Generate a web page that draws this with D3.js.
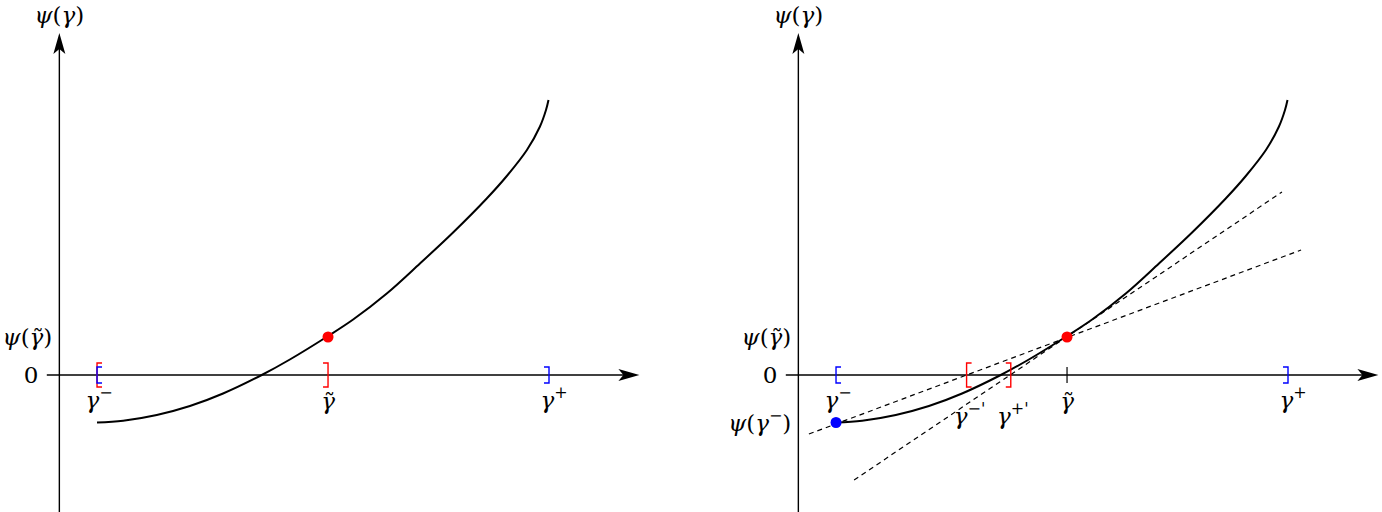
<!DOCTYPE html>
<html>
<head>
<meta charset="utf-8">
<script src="https://cdn.jsdelivr.net/npm/d3@7"></script>
<style>
  body { margin: 0; background: #fff; }
  svg { display: block; }
  svg text { font-family: "DejaVu Serif", "Liberation Serif", serif; fill: #000; }
</style>
</head>
<body>
<svg id="chart"></svg>
<script>
// psi(gamma) (abstract units)
const gammaValues = [1.00, 1.52, 2.19, 2.85, 3.51, 4.28, 4.84, 5.57, 6.10, 6.77, 7.43, 8.09, 8.76, 9.16, 9.56, 9.82, 9.94, 9.99];
const psiValues   = [-0.95, -0.915, -0.80, -0.62, -0.37, 0.00, 0.31, 0.76, 1.11, 1.63, 2.23, 2.85, 3.53, 3.98, 4.50, 4.97, 5.30, 5.50];

// special points on the gamma axis
const gammaMinus = 1.0;
const gammaTilde = 5.6;
const gammaPlus = 10.0;
const gammaMinusPrime = 3.60;
const gammaPlusPrime = 4.48;
const psiMinus = -0.95;
const psiTilde = 0.76;

// dashed lines in the right panel, [gamma, psi] end points
const dashStarts = [[0.46, -1.18], [1.36, -2.10]];
const dashEnds   = [[10.26, 2.50], [9.88, 3.66]];

const W = 1382, H = 512;
const panelShift = 739;
const fs = 23;

const svg = d3.select('#chart').attr('width', W).attr('height', H);
svg.append('rect').attr('width', W).attr('height', H).attr('fill', '#fff');

const x = d3.scaleLinear().domain([0, 11.8]).range([46.8, 639.4]);
const y = d3.scaleLinear().domain([-2.74, 6.84]).range([512, 33]);
const yAxisGamma = 0.25;

const curve = d3.line()
  .x((d, i) => x(gammaValues[i]))
  .y((d, i) => y(psiValues[i]))
  .curve(d3.curveCatmullRom.alpha(0.5));

// stealth-like arrow head, tip at (tx, ty), pointing along angle (deg)
function arrowHead(g, tx, ty, angle) {
  g.append('path')
    .attr('d', 'M0,0 L-21,-6 L-16,0 L-21,6 Z')
    .attr('transform', `translate(${tx},${ty}) rotate(${angle})`)
    .attr('fill', '#000');
}

function bracket(g, gx, open, color, half) {
  const px = x(gx), y0 = y(0) - half, y1 = y(0) + half;
  const w = open ? 5 : -5;
  g.append('path')
    .attr('d', `M${px + w},${y0} H${px} V${y1} H${px + w}`)
    .attr('fill', 'none')
    .attr('stroke', color)
    .attr('stroke-width', 1.4);
}

// text with italic / superscript pieces, tilde accents added afterwards
function mathText(g, tx, ty, parts, anchor) {
  const t = g.append('text')
    .attr('x', tx).attr('y', ty)
    .attr('text-anchor', anchor)
    .style('font-size', fs + 'px');
  let shift = 0;
  parts.forEach(p => {
    const s = p.sup ? -10 : 0;
    const ts = t.append('tspan').text(p.s).attr('dy', s - shift);
    shift = s;
    if (p.it) ts.style('font-style', 'italic');
    if (p.sup) ts.style('font-size', '16px');
  });
  let idx = 0;
  parts.forEach(p => {
    if (p.tilde) {
      const e = t.node().getExtentOfChar(idx);
      g.append('text')
        .attr('x', e.x + e.width / 2 + 1.5)
        .attr('y', ty + 1)
        .attr('text-anchor', 'middle')
        .style('font-size', fs + 'px')
        .text('\u02DC');
    }
    idx += p.s.length;
  });
}

const psiGamma = [{ s: 'ψ', it: true }, { s: '(' }, { s: 'γ', it: true }, { s: ')' }];
const psiTildeLbl = [{ s: 'ψ', it: true }, { s: '(' }, { s: 'γ', it: true, tilde: true }, { s: ')' }];
const psiMinusLbl = [{ s: 'ψ', it: true }, { s: '(' }, { s: 'γ', it: true }, { s: '\u2212', sup: true }, { s: ')' }];
const gMinusLbl = [{ s: 'γ', it: true }, { s: '\u2212', sup: true }];
const gPlusLbl = [{ s: 'γ', it: true }, { s: '+', sup: true }];
const gTildeLbl = [{ s: 'γ', it: true, tilde: true }];
const gMinusPrimeLbl = [{ s: 'γ', it: true }, { s: '\u2212', sup: true }, { s: "'", sup: true, it: true }];
const gPlusPrimeLbl = [{ s: 'γ', it: true }, { s: '+', sup: true }, { s: "'", sup: true, it: true }];

function drawAxes(g) {
  const ax = x(yAxisGamma);
  g.append('line')
    .attr('x1', x(0)).attr('x2', x(11.8) - 10)
    .attr('y1', y(0)).attr('y2', y(0))
    .attr('stroke', '#000').attr('stroke-width', 1.4);
  arrowHead(g, x(11.8), y(0), 0);
  g.append('line')
    .attr('x1', ax).attr('x2', ax)
    .attr('y1', y(-2.74)).attr('y2', y(6.84) + 10)
    .attr('stroke', '#000').attr('stroke-width', 1.4);
  arrowHead(g, ax, y(6.84), -90);

  mathText(g, ax, 23, psiGamma, 'middle');
  g.append('text')
    .attr('x', ax - 21).attr('y', y(0) + 8)
    .attr('text-anchor', 'end')
    .style('font-size', fs + 'px')
    .text('0');
  mathText(g, ax - 7, y(psiTilde) + 8, psiTildeLbl, 'end');
}

function drawCurve(g) {
  g.append('path')
    .attr('d', curve(gammaValues))
    .attr('fill', 'none')
    .attr('stroke', '#000')
    .attr('stroke-width', 2);
}

// Left panel
const left = svg.append('g');
drawAxes(left);
drawCurve(left);
bracket(left, gammaMinus, true, 'red', 12);
bracket(left, gammaMinus, true, 'blue', 8);
bracket(left, gammaTilde, false, 'red', 12);
bracket(left, gammaPlus, false, 'blue', 8);
left.append('circle')
  .attr('cx', x(gammaTilde)).attr('cy', y(psiTilde)).attr('r', 5.5)
  .attr('fill', 'red');
mathText(left, x(gammaMinus) + 2, 408, gMinusLbl, 'middle');
mathText(left, x(gammaTilde), 409, gTildeLbl, 'middle');
mathText(left, x(gammaPlus) + 5, 408, gPlusLbl, 'middle');

// Right panel
const right = svg.append('g').attr('transform', `translate(${panelShift},0)`);
drawAxes(right);
mathText(right, x(yAxisGamma) - 7, y(psiMinus) + 8, psiMinusLbl, 'end');
right.selectAll('line.dash')
  .data(dashStarts)
  .enter()
  .append('line')
  .attr('class', 'dash')
  .attr('x1', d => x(d[0]))
  .attr('y1', d => y(d[1]))
  .attr('x2', (d, i) => x(dashEnds[i][0]))
  .attr('y2', (d, i) => y(dashEnds[i][1]))
  .attr('stroke', '#000')
  .attr('stroke-width', 1.2)
  .attr('stroke-dasharray', '5,4');
drawCurve(right);
bracket(right, gammaMinus, true, 'blue', 8);
bracket(right, gammaPlus, false, 'blue', 8);
bracket(right, gammaMinusPrime, true, 'red', 12);
bracket(right, gammaPlusPrime, false, 'red', 12);
right.append('line')
  .attr('x1', x(gammaTilde)).attr('x2', x(gammaTilde))
  .attr('y1', y(0) - 8).attr('y2', y(0) + 8)
  .attr('stroke', '#000').attr('stroke-width', 1.2);
right.append('circle')
  .attr('cx', x(gammaTilde)).attr('cy', y(psiTilde)).attr('r', 5.5)
  .attr('fill', 'red');
right.append('circle')
  .attr('cx', x(gammaMinus)).attr('cy', y(psiMinus)).attr('r', 5.5)
  .attr('fill', 'blue');
mathText(right, x(gammaMinus) + 2, 408, gMinusLbl, 'middle');
mathText(right, x(gammaTilde), 409, gTildeLbl, 'middle');
mathText(right, x(gammaPlus) + 5, 408, gPlusLbl, 'middle');
mathText(right, x(gammaMinusPrime) + 3, 424, gMinusPrimeLbl, 'middle');
mathText(right, x(gammaPlusPrime) + 2, 424, gPlusPrimeLbl, 'middle');
</script>
</body>
</html>
